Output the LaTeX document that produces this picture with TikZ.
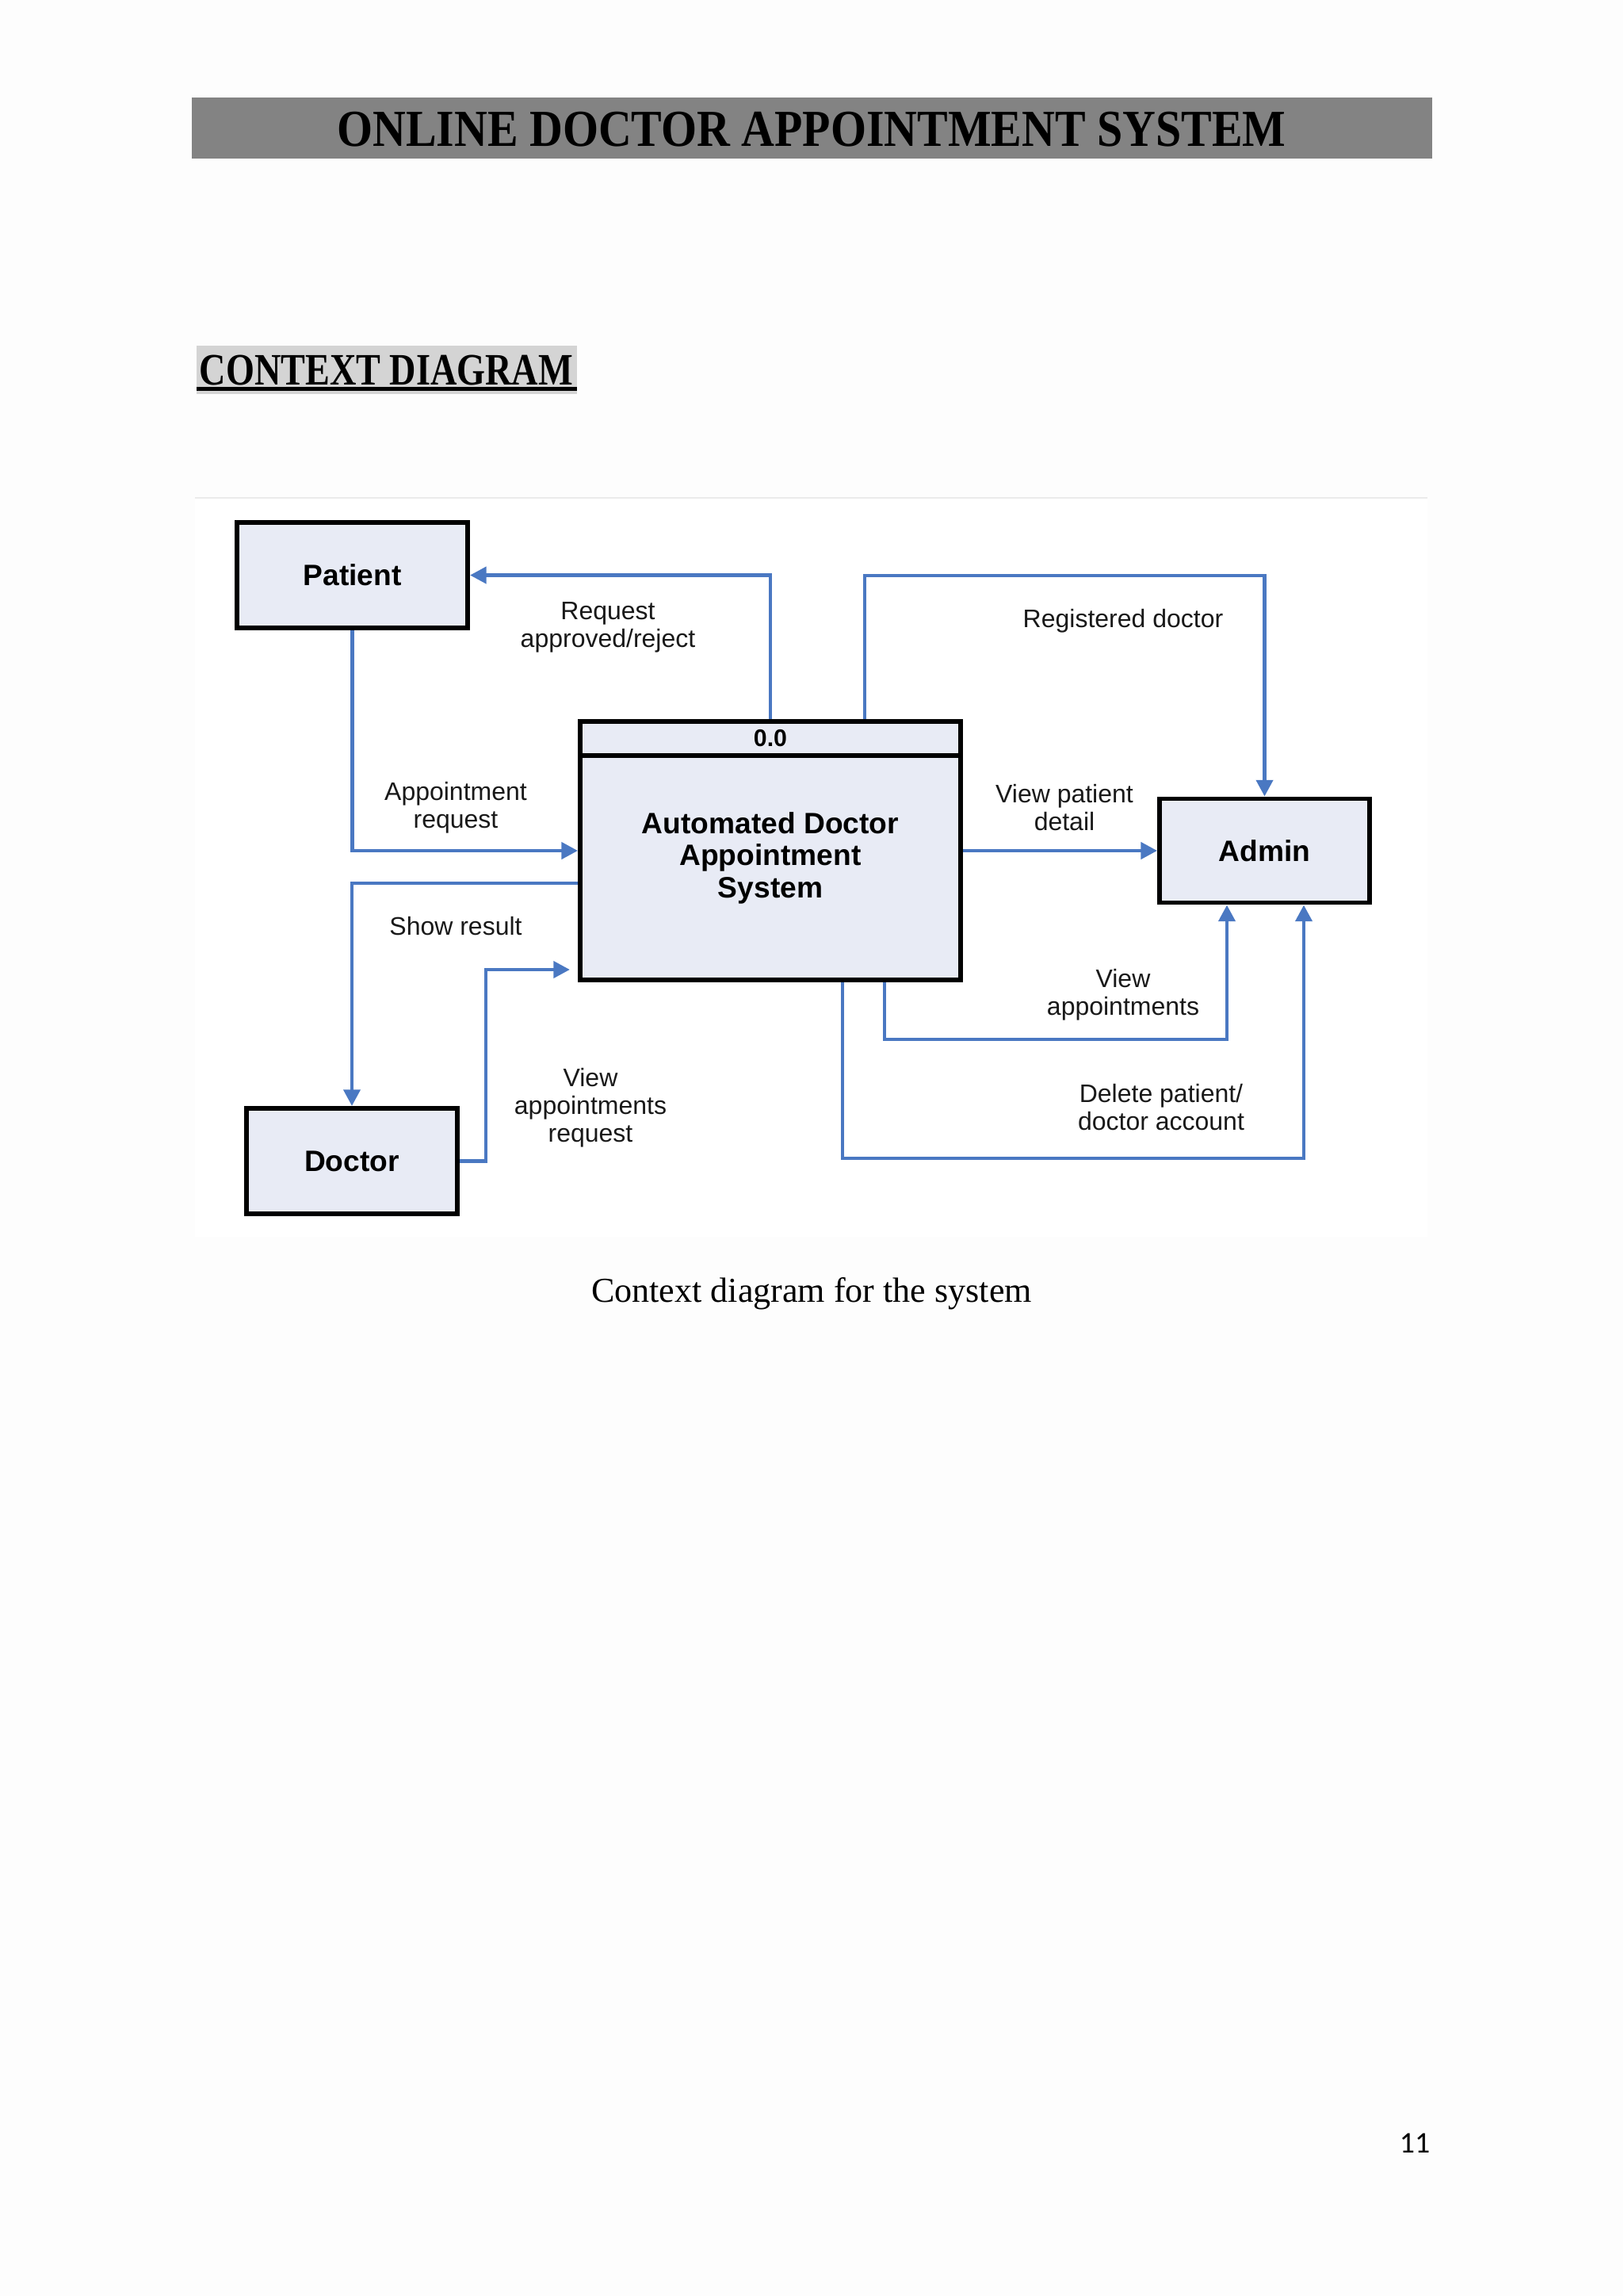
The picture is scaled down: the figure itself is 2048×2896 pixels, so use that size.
\documentclass[tikz,border=0pt]{standalone}
\usepackage{fontspec}
\setmainfont{Liberation Serif}
\newfontfamily\arialf{Liberation Sans}
\newfontfamily\calibf{Carlito}
\usetikzlibrary{arrows.meta,calc}
\definecolor{flowblue}{HTML}{4A78C2}
\definecolor{boxfill}{HTML}{E8EBF5}
\definecolor{titlegray}{HTML}{838383}
\definecolor{hlgray}{HTML}{D4D4D4}
\definecolor{pagebg}{HTML}{FDFDFD}
\begin{document}
\begin{tikzpicture}[x=0.29067pt,y=-0.29067pt,
  entity/.style={draw=black,line width=1.7pt,fill=boxfill,rectangle,inner sep=0pt,
    font=\arialf\bfseries\fontsize{10.8}{11.8}\selectfont},
  flow/.style={draw=flowblue,line width=1.4pt,-{Triangle[length=6pt,width=6pt]}},
  flowlabel/.style={font=\arialf\fontsize{9.3}{10.2}\selectfont,align=center,inner sep=0pt,text=black!90}]
\useasboundingbox (0,0) rectangle (2048,2896);
\fill[pagebg] (0,0) rectangle (2048,2896);
\fill[white] (246,628) rectangle (1801,1560);
\draw[black!8,line width=0.5pt] (246,628) -- (1801,628);

% title bar
\fill[titlegray] (242,123) rectangle (1807,200);
\node[anchor=base,inner sep=0pt] (title) at (1024,184)
  {\resizebox{348pt}{12.6pt}{\bfseries ONLINE DOCTOR APPOINTMENT SYSTEM}};

% heading
\fill[hlgray] (248,436) rectangle (728,497);
\node[anchor=base west,inner sep=0pt] (heading) at (251,485)
  {\resizebox{137pt}{10.9pt}{\bfseries CONTEXT DIAGRAM}};
\fill[black] (248,488) rectangle (728,493);

% entities
\node[entity,minimum width=84.6pt,minimum height=38.7pt] (patient) at (444.5,725.5) {Patient};
\node[entity,minimum width=77.3pt,minimum height=38.7pt] (doctor) at (444,1464.5) {Doctor};
\node[entity,minimum width=77pt,minimum height=38.1pt] (admin) at (1595.5,1073) {Admin};
\node[entity,minimum width=139.5pt,minimum height=94.8pt] (proc) at (972,1073) {};
\draw[line width=1.7pt] ([xshift=0.85pt]proc.west |- 0,953) -- ([xshift=-0.85pt]proc.east |- 0,953);
\node[font=\arialf\bfseries\fontsize{8.8}{10}\selectfont,inner sep=0pt] (pid) at (972,931) {0.0};
\node[font=\arialf\bfseries\fontsize{10.8}{11.8}\selectfont,align=center,inner sep=0pt] (ptext) at (972,1082)
  {Automated Doctor\\Appointment\\System};

% coordinates for connector bends
\coordinate (regc) at (1091,726);
\coordinate (showc) at (732,1114);
\coordinate (varc) at (613,1223);
\coordinate (vartip) at (719,1223);
\coordinate (vac1) at (1116,1311);
\coordinate (vac2) at (1548,1311);
\coordinate (dc1) at (1063,1461);
\coordinate (dc2) at (1645,1461);

% connectors
\draw[flow] (proc.north) |- (patient.east);
\draw[flow] (proc.north -| regc) -- (regc) -| (admin.north);
\draw[flow] (patient.south) |- (proc.west);
\draw[flow] (proc.west |- showc) -| (doctor.north);
\draw[flow] (doctor.east) -| (varc) -- (vartip);
\draw[flow] (proc.east) -- (admin.west);
\draw[flow] (proc.south -| vac1) -- (vac1) -- (vac2) -- (admin.south -| vac2);
\draw[flow] (proc.south -| dc1) -- (dc1) -- (dc2) -- (admin.south -| dc2);

% labels
\node[flowlabel] (lreq) at (767,791) {Request\\approved/reject};
\node[flowlabel] (lreg) at (1417,783) {Registered doctor};
\node[flowlabel] (lapp) at (575,1019) {Appointment\\request};
\node[flowlabel] (lshow) at (575,1168) {Show result};
\node[flowlabel] (lvar) at (745,1397) {View\\appointments\\request};
\node[flowlabel] (lvpd) at (1343,1019) {View patient\\detail};
\node[flowlabel] (lva) at (1417,1255) {View\\appointments};
\node[flowlabel] (ldel) at (1465,1397) {Delete patient/\\doctor account};

% caption and page number
\node[anchor=base,inner sep=0pt] (caption) at (1024,1642)
  {\resizebox{161.6pt}{!}{\fontsize{12}{14}\selectfont Context diagram for the system}};
\node[anchor=base,inner sep=0pt] (pagenum) at (1785,2715) {\calibf\fontsize{11}{13}\selectfont 11};
\end{tikzpicture}
\end{document}
